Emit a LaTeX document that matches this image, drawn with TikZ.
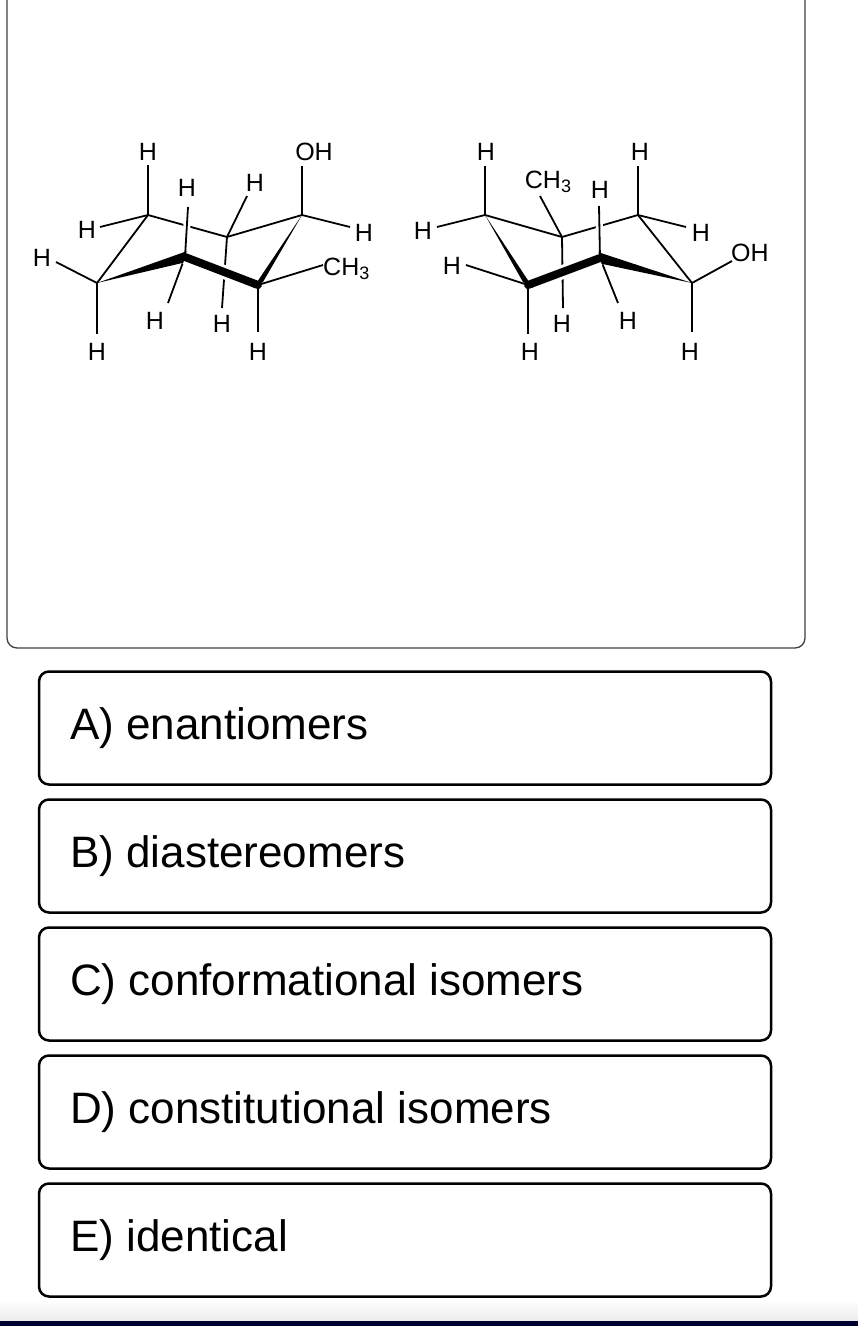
\documentclass[tikz,border=0pt]{standalone}
\usepackage{fontspec}
\setmainfont{Liberation Sans}
\usetikzlibrary{calc}
\newcommand{\sub}[1]{\raisebox{-0.3ex}{\fontsize{18}{18}\selectfont #1}}
\begin{document}
\begin{tikzpicture}[x=1pt,y=-1pt,
  bd/.style={line width=1.8pt},
  halo/.style={preaction={draw=white,line width=7pt}},
  bold/.style={line width=8pt,preaction={draw=white,line width=14pt}},
  lab/.style={font=\fontsize{25}{25}\selectfont,inner sep=0pt},
  opt/.style={draw,line width=2.5pt,rounded corners=10pt,minimum width=732pt,minimum height=113pt},
  optt/.style={font=\fontsize{44}{44}\selectfont,anchor=west,inner sep=0pt}]
\useasboundingbox (0,0) rectangle (858,1326);
\fill[white] (0,0) rectangle (858,1326);
% top frame
\draw[line width=1.3pt,rounded corners=10pt,color=black!75] (7,-20) -- (7,648) -- (805,648) -- (805,-20);
\shade[top color=white,bottom color=black!8] (0,1300) rectangle (858,1322);
\fill[color=blue!20!black] (0,1321) rectangle (858,1326);
% wedge macro
\newcommand{\wedgebond}[2]{\fill let \p1=($(#2)-(#1)$), \n1={atan2(\y1,\x1)} in (#1) -- ($(#2)+(\n1+90:6)$) -- ($(#2)+(\n1-90:6)$) -- cycle;}
% ---------- left chair
\coordinate (a1) at (97,283); \coordinate (a2) at (148,215); \coordinate (a3) at (227,237);
\coordinate (a4) at (302,215); \coordinate (a5) at (258,285); \coordinate (a6) at (185,257);
\draw[bd] (a1)--(a2)--(a3)--(a4);
% substituents
\node[lab] (h1a) at (97,352) {H}; \draw[bd] (a1)--(97,334);
\node[lab] (h1e) at (42,258) {H}; \draw[bd] (a1)--(56,262);
\node[lab] (h2a) at (148,152) {H}; \draw[bd] (a2)--(148,165);
\node[lab] (h2e) at (87,230) {H}; \draw[bd] (a2)--(100,227);
\node[lab] (h3a) at (222,324) {H}; \draw[bd] (a3)--(222,308);
\node[lab] (h3e) at (255,183) {H}; \draw[bd] (a3)--(247,196);
\node[lab] (oh1) at (314,152) {OH}; \draw[bd] (a4)--(302,166);
\node[lab] (h4e) at (364,233) {H}; \draw[bd] (a4)--(350,227);
\node[lab] (h5a) at (258,352) {H}; \draw[bd] (a5)--(258,332);
\node[lab,anchor=west] (me1) at (323,269) {CH\sub{3}}; \draw[bd] (a5)--(323,265);
\node[lab] (h6a) at (187,188) {H}; \draw[bd,halo] (a6)--(188,207);
\node[lab] (h6e) at (155,321) {H}; \draw[bd] (a6)--(168,303);
\draw[bold,line cap=round] (a6)--(a5);
\wedgebond{a1}{a6}
\wedgebond{a4}{a5}
% ---------- right chair
\coordinate (b1) at (485,215); \coordinate (b2) at (528,285); \coordinate (b3) at (600,258);
\coordinate (b4) at (692,283); \coordinate (b5) at (638,215); \coordinate (b6) at (562,237);
\draw[bd] (b4)--(b5)--(b6)--(b1);
\node[lab] (g1a) at (486,152) {H}; \draw[bd] (b1)--(485,166);
\node[lab] (g1e) at (423,231) {H}; \draw[bd] (b1)--(437,227);
\node[lab] (g2a) at (530,352) {H}; \draw[bd] (b2)--(528,334);
\node[lab] (g2e) at (452,266) {H}; \draw[bd] (b2)--(466,265);
\node[lab] (g3e) at (628,321) {H}; \draw[bd] (b3)--(618,303);
\node[lab] (g4a) at (690,352) {H}; \draw[bd] (b4)--(692,332);
\node[lab,anchor=west] (oh2) at (731,253) {OH}; \draw[bd] (b4)--(732,261);
\node[lab] (g5a) at (640,152) {H}; \draw[bd] (b5)--(638,166);
\node[lab] (g5e) at (701,233) {H}; \draw[bd] (b5)--(686,227);
\node[lab] (g6a) at (562,324) {H}; \draw[bd] (b6)--(563,308);
\node[lab] (me2) at (548,182) {CH\sub{3}}; \draw[bd] (b6)--(540,196);
\node[lab] (g3a) at (600,190) {H}; \draw[bd,halo] (b3)--(599,206);
\draw[bold,line cap=round] (b2)--(b3);
\wedgebond{b1}{b2}
\wedgebond{b4}{b3}
% ---------- options
\node[opt] (oa) at (405,728) {}; \node[optt] at (70,728) {A) enantiomers};
\node[opt] (ob) at (405,856) {}; \node[optt] at (70,856) {B) diastereomers};
\node[opt] (oc) at (405,984) {}; \node[optt] at (70,984) {C) conformational isomers};
\node[opt] (od) at (405,1112) {}; \node[optt] at (70,1112) {D) constitutional isomers};
\node[opt] (oe) at (405,1240) {}; \node[optt] at (70,1240) {E) identical};
\end{tikzpicture}
\end{document}
